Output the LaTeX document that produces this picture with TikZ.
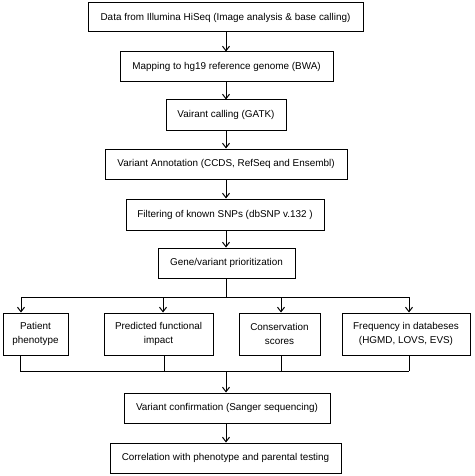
\documentclass[tikz,border=0pt]{standalone}
\usepackage{fontspec}
\setmainfont{Liberation Sans}
\usetikzlibrary{arrows.meta}
\begin{document}
\begin{tikzpicture}[x=1pt,y=-1pt,
  box/.style={draw, line width=1pt, inner sep=0pt, align=center, font=\fontsize{9.9}{13.5}\selectfont},
  conn/.style={line width=1pt},
  arr/.style={conn, -{Straight Barb[length=4.5pt,width=7pt,line width=1pt]}}]
\useasboundingbox (0,0) rectangle (474,476);
\node[box, minimum width=275pt, minimum height=29pt] (b1) at (225.5,17.5) {Data from Illumina HiSeq (Image analysis \& base calling)};
\node[box, minimum width=213pt, minimum height=30pt] (b2) at (226.5,67) {Mapping to hg19 reference genome (BWA)};
\node[box, minimum width=120pt, minimum height=30pt] (b3) at (226,115) {Vairant calling (GATK)};
\node[box, minimum width=242pt, minimum height=30pt] (b4) at (226,164) {Variant Annotation (CCDS, RefSeq and Ensembl)};
\node[box, minimum width=198pt, minimum height=31pt] (b5) at (225,214.5) {Filtering of known SNPs (dbSNP v.132 )};
\node[box, minimum width=137pt, minimum height=30pt] (b6) at (226.5,263) {Gene/variant prioritization};
\node[box, minimum width=65pt, minimum height=42pt] (p1) at (35.5,334) {Patient\\phenotype};
\node[box, minimum width=109pt, minimum height=42pt] (p2) at (158.5,334) {Predicted functional\\impact};
\node[box, minimum width=81pt, minimum height=42pt] (p3) at (279.5,334) {Conservation\\scores};
\node[box, minimum width=128pt, minimum height=42pt] (p4) at (406,334) {Frequency in databeses\\(HGMD, LOVS, EVS)};
\node[box, minimum width=206pt, minimum height=30pt] (b7) at (227,408) {Variant confirmation (Sanger sequencing)};
\node[box, minimum width=231pt, minimum height=30pt] (b8) at (225.5,458) {Correlation with phenotype and parental testing};
\coordinate (m1) at (226,0);
\draw[arr] (b1.south -| m1) -- (b2.north -| m1);
\draw[arr] (b2.south -| m1) -- (b3.north -| m1);
\draw[arr] (b3.south -| m1) -- (b4.north -| m1);
\draw[arr] (b4.south -| m1) -- (b5.north -| m1);
\draw[arr] (b5.south -| m1) -- (b6.north -| m1);
\coordinate (a1) at (21,297);
\coordinate (a2) at (163,297);
\coordinate (a3) at (281,297);
\coordinate (a4) at (409,297);
\draw[conn] (b6.south -| m1) -- (a1 -| m1);
\draw[conn] (a1) -- (a4);
\draw[arr] (a1) -- (a1 |- p1.north);
\draw[arr] (a2) -- (a2 |- p2.north);
\draw[arr] (a3) -- (a3 |- p3.north);
\draw[arr] (a4) -- (a4 |- p4.north);
\coordinate (c1) at (20,371);
\coordinate (c2) at (164,371);
\coordinate (c3) at (281,371);
\coordinate (c4) at (409,371);
\draw[conn] (p1.south -| c1) -- (c1);
\draw[conn] (p2.south -| c2) -- (c2);
\draw[conn] (p3.south -| c3) -- (c3);
\draw[conn] (p4.south -| c4) -- (c4);
\draw[conn] (c1) -- (c4);
\draw[arr] (c1 -| m1) -- (b7.north -| m1);
\draw[arr] (b7.south -| m1) -- (b8.north -| m1);
\end{tikzpicture}
\end{document}
